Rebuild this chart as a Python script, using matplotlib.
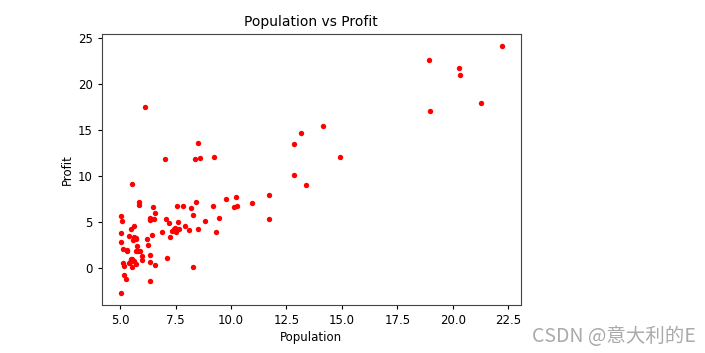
import matplotlib
matplotlib.use("Agg")
import matplotlib.pyplot as plt

population = [6.1101, 5.5277, 8.5186, 7.0032, 5.8598, 8.3829, 7.4764, 8.5781, 6.4862, 5.0546,
              5.7107, 14.164, 5.734, 8.4084, 5.6407, 5.3794, 6.3654, 5.1301, 6.4296, 7.0708,
              6.1891, 20.27, 5.4901, 6.3261, 5.5649, 18.945, 12.828, 10.957, 13.176, 22.203,
              5.2524, 6.5894, 9.2482, 5.8918, 8.2111, 7.9334, 8.0959, 5.6063, 12.836, 6.3534,
              5.4069, 6.8825, 11.708, 5.7737, 7.8247, 7.0931, 5.0702, 5.8014, 11.7, 5.5416,
              7.5402, 5.3077, 7.4239, 7.6031, 6.3328, 6.3589, 6.2742, 5.6397, 9.3102, 9.4536,
              8.8254, 5.1793, 21.279, 14.908, 18.959, 7.2182, 8.2951, 10.236, 5.4994, 20.341,
              10.136, 7.3345, 6.0062, 7.2259, 5.0269, 6.5479, 7.5386, 5.0365, 10.274, 5.1077,
              5.7292, 5.1884, 6.3557, 9.7687, 6.5159, 8.5172, 9.1802, 6.002, 5.5204, 5.0594,
              5.7077, 7.6366, 5.8707, 5.3054, 8.2934, 13.394, 5.4369]
profit = [17.592, 9.1302, 13.662, 11.854, 6.8233, 11.886, 4.3483, 12.0, 6.5987, 3.8166,
          3.2522, 15.505, 3.1551, 7.2258, 0.71618, 3.5129, 5.3048, 0.56077, 3.6518, 5.3893,
          3.1386, 21.767, 4.263, 5.1875, 3.0825, 22.638, 13.501, 7.0467, 14.692, 24.147,
          -1.22, 5.9966, 12.134, 1.8495, 6.5426, 4.5623, 4.1164, 3.3928, 10.117, 5.4974,
          0.55657, 3.9115, 5.3854, 2.4406, 6.7318, 1.0463, 5.1337, 1.844, 8.0043, 1.0179,
          6.7504, 1.8396, 4.2885, 4.9981, 1.4233, -1.4211, 2.4756, 4.6042, 3.9624, 5.4141,
          5.1694, -0.74279, 17.929, 12.054, 17.054, 4.8852, 5.7442, 7.7754, 1.0173, 20.992,
          6.6799, 4.0259, 1.2784, 3.3411, -2.6807, 0.29678, 3.8845, 5.7014, 6.7526, 2.0576,
          0.47953, 0.20421, 0.67861, 7.5435, 5.3436, 4.2415, 6.7981, 0.92695, 0.152, 2.8214,
          1.8451, 4.2959, 7.2029, 1.9869, 0.14454, 9.0551, 0.61705]

title = "Population vs Profit"
xlabel = "Population"
ylabel = "Profit"
watermark = "CSDN @意大利的E"

fig = plt.figure(figsize=(7.05, 3.53), dpi=100)
ax = fig.add_axes([0.1443, 0.136, 0.5943, 0.7677])
ax.scatter(population, profit, c="red", s=15, linewidths=0)
ax.set_title(title, fontsize=10)
ax.set_xlabel(xlabel, fontsize=8.5, labelpad=3)
ax.set_ylabel(ylabel, fontsize=8.5, labelpad=3)
ax.tick_params(labelsize=8.5, length=3)
for sp in ax.spines.values():
    sp.set_color("#444444")
fig.text(0.755, 0.03, watermark, fontsize=14, color="#aaaaaa",
         family=["Noto Sans CJK SC", "DejaVu Sans"])
fig.savefig("out.png", dpi=100)
